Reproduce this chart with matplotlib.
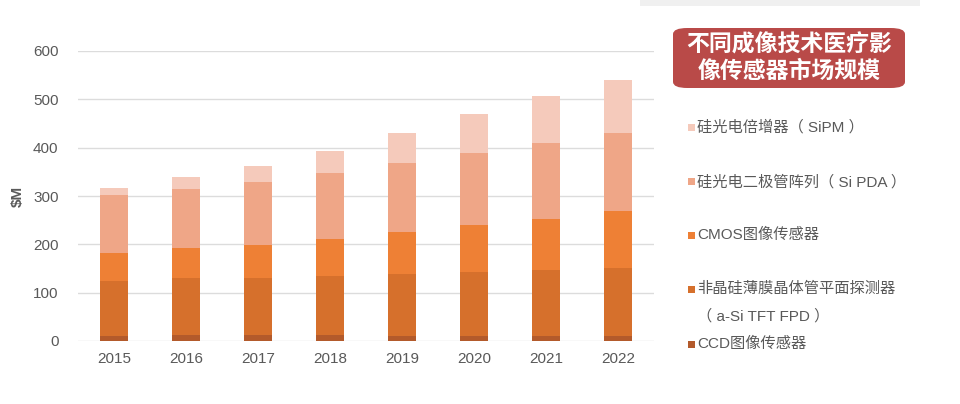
import matplotlib
matplotlib.use("Agg")
import matplotlib.pyplot as plt
from matplotlib.patches import FancyBboxPatch, Rectangle
import numpy as np

plt.rcParams['font.family'] = ['Liberation Sans', 'Noto Sans CJK SC', 'DejaVu Sans']

years = ["2015", "2016", "2017", "2018", "2019", "2020", "2021", "2022"]
ccd = [11, 12, 12, 12, 10, 10, 10, 10]
asi_tft = [114, 118, 119, 122, 128, 133, 136, 142]
cmos = [58, 62, 68, 78, 87, 96, 106, 116]
si_pda = [119, 122, 129, 136, 143, 149, 157, 163]
sipm = [14, 26, 34, 45, 62, 81, 98, 109]

series_names = ["CCD图像传感器", "非晶硅薄膜晶体管平面探测器\n（ a-Si TFT FPD ）",
                "CMOS图像传感器", "硅光电二极管阵列（ Si PDA ）", "硅光电倍增器（ SiPM ）"]
series_vals = [ccd, asi_tft, cmos, si_pda, sipm]
colors = ["#B35A2B", "#D6702C", "#EE8035", "#EFA687", "#F5CABB"]
yticks = [0, 100, 200, 300, 400, 500, 600]
title_text = "不同成像技术医疗影\n像传感器市场规模"

fig = plt.figure(figsize=(9.6, 4.04), dpi=100)
fig.patch.set_facecolor("white")
ax = fig.add_axes([78/960, 63/404, 576/960, 290/404])

x = np.arange(len(years))
bottom = np.zeros(len(years))
for vals, c in zip(series_vals, colors):
    ax.bar(x, vals, bottom=bottom, width=0.39, color=c, zorder=3)
    bottom += np.array(vals)

ax.set_xlim(-0.5, len(years) - 0.5)
ax.set_ylim(0, 600)
ax.set_yticks(yticks)
ax.set_xticks(x)
ax.set_xticklabels(years)
ax.tick_params(axis='both', length=0, labelsize=11, labelcolor="#595959")
ax.tick_params(axis='y', pad=14)
ax.tick_params(axis='x', pad=8)
ax.grid(axis='y', color="#DCDCDC", linewidth=1, zorder=0)
for s in ax.spines.values():
    s.set_visible(False)
ax.set_ylabel("$M", fontsize=11, fontweight='bold', color="#595959")
ax.yaxis.set_label_coords(-0.092, 0.5)

# light top band
fig.patches.append(Rectangle((640/960, 398/404), 280/960, 6/404, transform=fig.transFigure,
                             facecolor="#F0F0F0", edgecolor="none"))

# title box
box = FancyBboxPatch((673/960, 316/404), 232/960, 60/404,
                     boxstyle="round,pad=0,rounding_size=0.015",
                     transform=fig.transFigure, facecolor="#B94A48", edgecolor="none")
fig.patches.append(box)
fig.text(789/960, 346/404, title_text, ha='center', va='center', color='white',
         fontsize=16.5, fontweight='bold', linespacing=1.2)

# legend (top to bottom: SiPM, SiPDA, CMOS, aSi, CCD)
legend_y = [127, 182, 235, 289, 344]
order = [4, 3, 2, 1, 0]
for yy, i in zip(legend_y, order):
    fig.patches.append(Rectangle((688/960, (404 - yy - 3.5)/404), 7/960, 7/404,
                                 transform=fig.transFigure, facecolor=colors[i], edgecolor='none'))
    name = series_names[i]
    if "\n" in name:
        l1, l2 = name.split("\n")
        fig.text(697/960, (404 - yy)/404, l1, ha='left', va='center', fontsize=11, color="#595959")
        fig.text(697/960, (404 - yy - 27)/404, l2, ha='left', va='center', fontsize=11, color="#595959")
    else:
        fig.text(697/960, (404 - yy)/404, name, ha='left', va='center', fontsize=11, color="#595959")

fig.savefig("out.png", dpi=100)
